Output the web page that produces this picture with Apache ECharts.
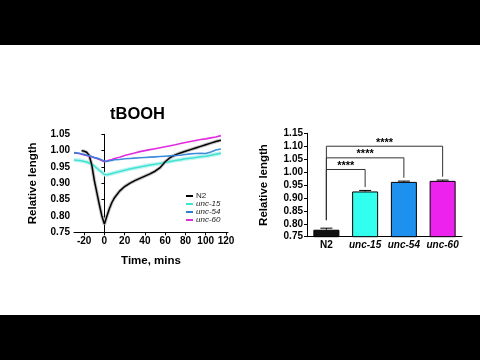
<!DOCTYPE html>
<html><head><meta charset="utf-8">
<script src="https://cdn.jsdelivr.net/npm/echarts@6/dist/echarts.min.js"></script>
<style>html,body{margin:0;padding:0;background:#fff}#c{width:480px;height:360px}</style>
</head><body><div id="c"></div>
<script>
// ---- time course (left panel) ----
const timeMins = [-30,-25,-22.5,-20,-17.5,-15,-12.5,-10,-7.5,-5,-2.5,0,2.5,5,7.5,10,15,20,25,30,35,40,45,50,55,60,65,70,75,80,85,90,95,100,105,110,115];
const n2Len   = [null,null,1.000,0.998,0.995,0.985,0.957,0.910,0.872,0.835,0.800,0.775,0.800,0.823,0.842,0.856,0.876,0.890,0.900,0.908,0.915,0.922,0.929,0.937,0.948,0.966,0.979,0.987,0.993,0.998,1.003,1.008,1.013,1.018,1.023,1.028,1.032];
const unc15Len= [0.971,0.970,0.969,0.967,0.965,0.962,0.958,0.953,0.946,0.940,0.934,0.927,0.926,0.928,0.930,0.932,0.936,0.940,0.944,0.947,0.950,0.953,0.956,0.958,0.961,0.964,0.967,0.970,0.972,0.975,0.977,0.979,0.981,0.983,0.986,0.989,0.992];
const unc54Len= [0.994,0.992,0.990,0.988,0.986,0.984,0.982,0.979,0.977,0.975,0.971,0.968,0.967,0.969,0.970,0.972,0.973,0.975,0.976,0.977,0.978,0.979,0.980,0.981,0.982,0.983,0.984,0.985,0.986,0.988,0.990,0.991,0.992,0.991,0.996,1.002,1.005];
const unc60Len= [0.993,0.991,0.989,0.987,0.985,0.983,0.981,0.978,0.976,0.973,0.970,0.966,0.968,0.971,0.973,0.976,0.980,0.985,0.989,0.993,0.997,1.000,1.003,1.006,1.009,1.012,1.015,1.018,1.022,1.025,1.028,1.031,1.034,1.036,1.039,1.042,1.046];
const xTickValues = [-20,0,20,40,60,80,100,120];
const lineNames = ['N2','unc-15','unc-54','unc-60'];

// ---- bar summary (right panel) ----
const barCategories = ['N2','unc-15','unc-54','unc-60'];
const barMeans = [0.777,0.925,0.962,0.966];
const barSem   = [0.006,0.004,0.003,0.003];
const sigPairs = [[0,1],[0,2],[0,3]];
const sigLevels = [1.01,1.055,1.10];
const sigLabels = ['****','****','****'];

const FONT = "'Liberation Sans', Arial, sans-serif";
const toPairs = arr => timeMins.map((t,i)=>[t, arr[i]]);

const chart = echarts.init(document.getElementById('c'), null, {renderer:'canvas'});

const yLabel = {fontFamily:FONT, fontSize:10, fontWeight:'bold', color:'#000', margin:4, formatter: v => v.toFixed(2)};
const axLine = {show:true, lineStyle:{color:'#000', width:1}};
const axTick = {show:true, length:3, inside:false, lineStyle:{color:'#000'}};
const nameStyle = {fontFamily:FONT, fontSize:11.5, fontWeight:'bold', color:'#000'};

const option = {
  backgroundColor:'#fff',
  animation:false,
  textStyle:{fontFamily:FONT},
  graphic:[
    {type:'rect', shape:{x:0,y:0,width:480,height:45}, style:{fill:'#000'}},
    {type:'rect', shape:{x:0,y:315,width:480,height:45}, style:{fill:'#000'}},
    {type:'text', x:137.5, y:114, style:{text:'tBOOH', align:'center', verticalAlign:'middle', font:'bold 16.5px '+FONT, fill:'#000'}}
  ],
  legend:{
    orient:'vertical', left:186, top:192, padding:0, itemGap:0,
    itemWidth:7, itemHeight:2, icon:'rect',
    data: lineNames,
    formatter: n => n==='N2' ? n : '{i|'+n+'}',
    textStyle:{fontFamily:FONT, fontSize:8, lineHeight:7.5, color:'#222', padding:[0,0,0,-2],
      rich:{i:{fontFamily:FONT, fontStyle:'italic', fontSize:8, lineHeight:7.5, color:'#222'}}}
  },
  grid:[
    {left:74, top:134.3, width:154, height:98},
    {left:307, top:133.3, width:155, height:103.4}
  ],
  xAxis:[
    {type:'value', gridIndex:0, min:-30, max:122,
     name:'Time, mins', nameLocation:'middle', nameGap:23, nameTextStyle:nameStyle,
     axisLine:axLine, axisTick:Object.assign({customValues:xTickValues}, axTick),
     axisLabel:{customValues:xTickValues, fontFamily:FONT, fontSize:10, fontWeight:'bold', color:'#000', margin:4},
     splitLine:{show:false}},
    {type:'category', gridIndex:1, data:barCategories,
     axisLine:axLine, axisTick:{show:false},
     axisLabel:{interval:0, margin:4, formatter: v => v==='N2' ? '{b|N2}' : '{i|'+v+'}',
       rich:{b:{fontFamily:FONT, fontSize:10, fontWeight:'bold', color:'#000'},
             i:{fontFamily:FONT, fontSize:10, fontWeight:'bold', fontStyle:'italic', color:'#000'}}}}
  ],
  yAxis:[
    {type:'value', gridIndex:0, min:0.75, max:1.05, interval:0.05,
     name:'Relative length', nameLocation:'middle', nameGap:35, nameTextStyle:nameStyle,
     axisLine:axLine, axisTick:axTick, axisLabel:yLabel, splitLine:{show:false}},
    {type:'value', gridIndex:1, min:0.75, max:1.15, interval:0.05,
     name:'Relative length', nameLocation:'middle', nameGap:37, nameTextStyle:nameStyle,
     axisLine:axLine, axisTick:axTick, axisLabel:yLabel, splitLine:{show:false}}
  ],
  series:[
    {name:'unc-15 band', type:'line', xAxisIndex:0, yAxisIndex:0, data:toPairs(unc15Len), showSymbol:false, silent:true,
     lineStyle:{color:'#bff4ef', width:4}, z:1},
    {name:'N2 band', type:'line', xAxisIndex:0, yAxisIndex:0, data:toPairs(n2Len), showSymbol:false, silent:true,
     lineStyle:{color:'#c4c4c4', width:3.5}, z:1},
    {name:'unc-15', type:'line', xAxisIndex:0, yAxisIndex:0, data:toPairs(unc15Len), showSymbol:false,
     color:'#3fe3d3', lineStyle:{color:'#3fe3d3', width:1.5}, z:2},
    {name:'N2', type:'line', xAxisIndex:0, yAxisIndex:0, data:toPairs(n2Len), showSymbol:false,
     color:'#000', lineStyle:{color:'#000', width:1.5}, z:3},
    {name:'unc-60', type:'line', xAxisIndex:0, yAxisIndex:0, data:toPairs(unc60Len), showSymbol:false,
     color:'#e02be0', lineStyle:{color:'#e02be0', width:1.6}, z:4},
    {name:'unc-54', type:'line', xAxisIndex:0, yAxisIndex:0, data:toPairs(unc54Len), showSymbol:false,
     color:'#2a7fd8', lineStyle:{color:'#2a7fd8', width:1.6, opacity:0.9}, z:5},
    {name:'bars', type:'bar', xAxisIndex:1, yAxisIndex:1, barWidth:26,
     data: barMeans.map((m,i)=>({value:m, itemStyle:{color:['#111111','#33ffee','#1e90ee','#ee22ee'][i]}})),
     itemStyle:{borderColor:'#000', borderWidth:1}, z:2},
    {name:'err', type:'custom', xAxisIndex:1, yAxisIndex:1, z:3,
     data: barMeans.map((m,i)=>[i, m, barSem[i]]),
     renderItem:(params, api)=>{
       const i = api.value(0), m = api.value(1), s = api.value(2);
       const top = api.coord([i, m+s]), base = api.coord([i, m]);
       return {type:'group', children:[
         {type:'line', shape:{x1:top[0], y1:top[1], x2:base[0], y2:base[1]}, style:{stroke:'#000', lineWidth:1}},
         {type:'line', shape:{x1:top[0]-6, y1:top[1], x2:top[0]+6, y2:top[1]}, style:{stroke:'#000', lineWidth:1}}
       ]};
     }},
    {name:'sig', type:'custom', xAxisIndex:1, yAxisIndex:1, z:4,
     data: sigPairs.map((p,k)=>[p[0], p[1], sigLevels[k], k]),
     renderItem:(params, api)=>{
       const a = api.value(0), b = api.value(1), lvl = api.value(2), k = api.value(3);
       const pa = api.coord([a, lvl]), pb = api.coord([b, lvl]);
       const la = api.coord([a, barMeans[a]+barSem[a]+0.031]);
       const lb = api.coord([b, barMeans[b]+barSem[b]+0.013]);
       return {type:'group', children:[
         {type:'polyline', shape:{points:[la, pa, pb, lb]}, style:{stroke:'#333', lineWidth:1, fill:null}},
         {type:'text', x:(pa[0]+pb[0])/2, y:pa[1]+2, style:{text:sigLabels[k], align:'center', verticalAlign:'bottom',
           font:'bold 11px '+FONT, fill:'#000'}}
       ]};
     }}
  ]
};
chart.setOption(option);
</script></body></html>
